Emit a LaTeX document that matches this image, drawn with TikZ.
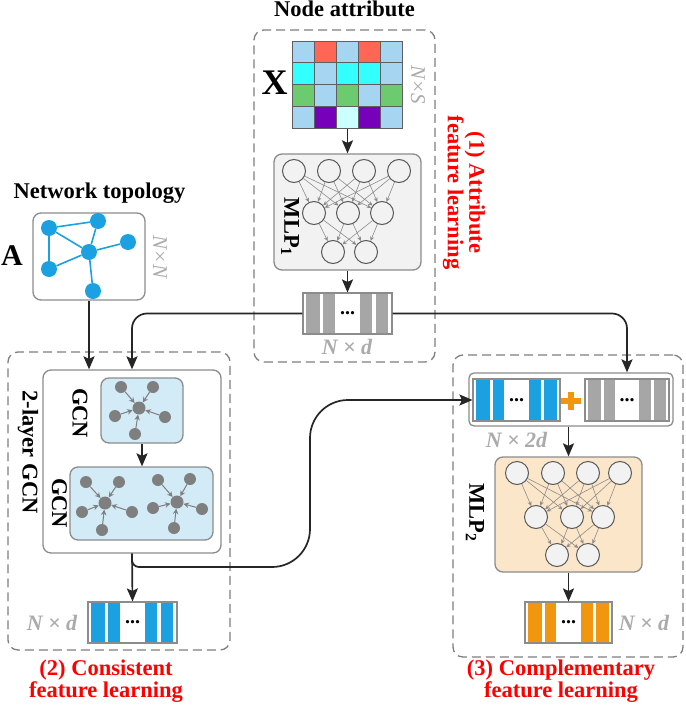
\documentclass[tikz,border=0pt]{standalone}
\usepackage{fontspec}
\setmainfont{Liberation Serif}
\usetikzlibrary{calc,arrows.meta}
\definecolor{nblue}{HTML}{1BA1E2}
\definecolor{sgray}{HTML}{A6A6A6}
\definecolor{norange}{HTML}{F0960F}
\definecolor{gcnfill}{HTML}{D3EBF7}
\definecolor{mlpAfill}{HTML}{F2F2F2}
\definecolor{mlpBfill}{HTML}{FCE6C9}
\definecolor{bgray}{HTML}{8C8C8C}
\definecolor{dgray}{HTML}{7F7F7F}
\definecolor{arr}{HTML}{262626}
\definecolor{lbl}{HTML}{ABABAB}
\definecolor{gnd}{HTML}{7F7F7F}
\definecolor{mline}{HTML}{595959}
\definecolor{medg}{HTML}{8C8C8C}
\definecolor{mgrid}{HTML}{5F5F5F}
\definecolor{mlb}{HTML}{A5D5F0}
\definecolor{mred}{HTML}{FF6655}
\definecolor{mcyan}{HTML}{33FFFF}
\definecolor{mgreen}{HTML}{6CCB6E}
\definecolor{mpurple}{HTML}{7700BB}
\definecolor{mpale}{HTML}{CCFFFF}
\definecolor{nred}{HTML}{FF0000}
\newcommand\lblfont{\fontsize{22.5}{22.5}\selectfont\bfseries}
\newcommand\redfont{\fontsize{22.5}{20.5}\selectfont\bfseries}
\newcommand\glabfont{\fontsize{22}{22}\selectfont\bfseries\itshape}
\newcommand\dimfont{\fontsize{21}{21}\selectfont\itshape}
\newcommand\dotsfont{\fontsize{20}{20}\selectfont\bfseries}
\tikzset{
 dashbox/.style={draw=dgray, dash pattern=on 9pt off 5pt, line width=1.3pt, rounded corners=10pt, inner sep=0pt},
 solidbox/.style={draw=bgray, line width=1.3pt, rounded corners=8pt, inner sep=0pt},
 conn/.style={draw=arr, line width=1.7pt, -{Stealth[length=13pt,width=11pt,inset=2.5pt]}},
 bnode/.style={circle, fill=nblue, minimum size=16pt, inner sep=0pt},
 bedge/.style={draw=nblue, line width=1.6pt},
 gnode/.style={circle, fill=gnd, minimum size=12pt, inner sep=0pt},
 gedge/.style={draw=gnd, line width=1pt, -{Stealth[length=5.5pt,width=5.5pt]}},
 mnode/.style={circle, draw=mline, fill=#1, line width=1pt, minimum size=23pt, inner sep=0pt},
 medge/.style={draw=medg, line width=0.6pt, -{Stealth[length=4.5pt,width=4pt]}},
 vec/.style 2 args={draw=bgray, fill=white, line width=1.1pt, inner sep=0pt, minimum width=#2, minimum height=41pt,
   font=\dotsfont,
   path picture={\foreach \a/\b in {0.035/0.19,0.225/0.36,0.64/0.78,0.82/0.96}{
     \fill[#1] ($(path picture bounding box.south west)!\a!(path picture bounding box.south east)$) rectangle ($(path picture bounding box.north west)!\b!(path picture bounding box.north east)$);}}},
 blab/.style={font=\lblfont, text=black, inner sep=0pt},
 rlab/.style={font=\redfont, text=nred, align=center, inner sep=0pt},
 glab/.style={font=\glabfont, text=lbl, inner sep=0pt},
 dlab/.style={font=\dimfont, text=lbl, inner sep=0pt, rotate=-90},
}
\begin{document}
\begin{tikzpicture}[x=1pt,y=-1pt]
\fill[white] (0,0) rectangle (685,706);
\useasboundingbox (0,0) rectangle (685,706);

% dashed containers
\node[dashbox, minimum width=181pt, minimum height=332pt] (attrbox) at (344.5,196) {};
\node[dashbox, minimum width=222pt, minimum height=298pt] (consbox) at (119,501) {};
\node[dashbox, minimum width=230pt, minimum height=302pt] (compbox) at (568,506) {};

% titles
\node[blab, anchor=base] (title1) at (344.5,17) {Node attribute};
\node[blab, anchor=base] (title2) at (99.5,198) {Network topology};

% attribute matrix
\foreach \row/\cols in {0/{mlb,mred,mlb,mred,mlb},1/{mcyan,mlb,mcyan,mcyan,mlb},2/{mgreen,mlb,mgreen,mlb,mgreen},3/{mlb,mpurple,mpale,mpurple,mlb}}{
  \foreach \c [count=\i from 0] in \cols {
    \filldraw[fill=\c, draw=mgrid, line width=0.8pt] (292+\i*22, 41+\row*21.75) rectangle ++(22,21.75);
  }
}
\node[draw=mgrid, line width=1pt, minimum width=110pt, minimum height=87pt, inner sep=0pt, anchor=north west] (Xm) at (292,41) {};
\node[blab, font=\fontsize{36}{36}\selectfont\bfseries, anchor=base] (Xl) at (274.5,95) {X};
\node[dlab] (xdim) at (418,85) {N×S};

% MLP1
\node[solidbox, fill=mlpAfill, minimum width=147pt, minimum height=116pt] (mlp1) at (347.5,212) {};
\foreach \x [count=\i] in {294,329,364,399} \node[mnode=mlpAfill] (at\i) at (\x,171) {};
\foreach \x [count=\i] in {314,348,382} \node[mnode=mlpAfill] (am\i) at (\x,213) {};
\foreach \x [count=\i] in {333,366} \node[mnode=mlpAfill] (ab\i) at (\x,252) {};
\foreach \i in {1,...,4}{\foreach \j in {1,2,3}{\draw[medge] (at\i) -- (am\j);}}
\foreach \i in {1,2,3}{\foreach \j in {1,2}{\draw[medge] (am\i) -- (ab\j);}}
\node[blab, rotate=-90] (mlp1l) at (290,227) {MLP\textsubscript{1}};

\node[rlab, rotate=-90] (lab1) at (464,192.5) {(1) Attribute\\feature learning};

% top vector
\node[vec={sgray}{89pt}] (vtop) at (347.5,313.5) {...};
\node[glab] (vtopl) at (347,347) {N × d};
\draw[conn] (Xm.south) -- (mlp1.north);
\draw[conn] (mlp1.south) -- (vtop.north);

% network topology
\node[solidbox, minimum width=112pt, minimum height=87pt] (Abox) at (89,256.5) {};
\node[bnode] (a1) at (49,228) {};
\node[bnode] (a2) at (98,221) {};
\node[bnode] (a3) at (128,242) {};
\node[bnode] (a4) at (89,252) {};
\node[bnode] (a5) at (49,269) {};
\node[bnode] (a6) at (93,291) {};
\foreach \u/\v in {a1/a2,a1/a4,a1/a5,a2/a4,a4/a3,a4/a5,a4/a6} \draw[bedge] (\u) -- (\v);
\node[blab, font=\fontsize{30}{30}\selectfont\bfseries, anchor=base] (Al) at (12,265) {A};
\node[dlab] (adim) at (160,257) {N×N};

% GCN
\node[solidbox, fill=white, minimum width=178pt, minimum height=183pt] (gcnout) at (132,461.5) {};
\node[solidbox, fill=gcnfill, minimum width=82pt, minimum height=65pt] (gcn1) at (142,410.5) {};
\node[solidbox, fill=gcnfill, minimum width=143pt, minimum height=73pt] (gcn2) at (141.5,503.5) {};
\node[blab, rotate=-90] (gcnl) at (28,452) {2-layer GCN};
\node[blab, rotate=-90] (gcn1l) at (80,413) {GCN};
\node[blab, rotate=-90] (gcn2l) at (59.5,503) {GCN};
% stars
\node[gnode, minimum size=13pt] (s1c) at (139,408) {};
\foreach \p [count=\i] in {(121,387),(153,387),(115,416),(165,417),(135,434)}{\node[gnode] (s1o\i) at \p {}; \draw[gedge] (s1o\i) -- (s1c);}
\node[gnode, minimum size=13pt] (s2c) at (105,503) {};
\foreach \p [count=\i] in {(86,482),(119,482),(82,512),(132,512),(102,530)}{\node[gnode] (s2o\i) at \p {}; \draw[gedge] (s2o\i) -- (s2c);}
\node[gnode, minimum size=13pt] (s3c) at (177,502) {};
\foreach \p [count=\i] in {(158,480),(190,479),(153,508),(202,509),(174,528)}{\node[gnode] (s3o\i) at \p {}; \draw[gedge] (s3o\i) -- (s3c);}
\draw[conn] (gcn1.south) -- (gcn1.south |- gcn2.north);

% consistent vector
\node[vec={nblue}{89pt}] (vblue) at (132.5,622.5) {...};
\node[glab] (vbluel) at (52,623) {N × d};
\node[rlab] (lab2) at (106,681) {(2) Consistent\\feature learning};

% concatenation
\node[solidbox, fill=white, rounded corners=5pt, minimum width=204pt, minimum height=53pt] (cat) at (571,399.5) {};
\node[vec={nblue}{87pt}, minimum height=42pt] (vcb) at (516.5,400) {...};
\node[vec={sgray}{84pt}, minimum height=42pt] (vcg) at (627,400) {...};
\coordinate (plusc) at (571,401);
\draw[norange, line width=6pt] ($(plusc)+(-10,0)$) -- ($(plusc)+(10,0)$);
\draw[norange, line width=6pt] ($(plusc)+(0,-9)$) -- ($(plusc)+(0,9)$);
\node[glab] (catl) at (516.5,440) {N × 2d};

% MLP2
\node[solidbox, fill=mlpBfill, minimum width=147pt, minimum height=115pt] (mlp2) at (568.5,514.5) {};
\foreach \x [count=\i] in {517,553,588,620} \node[mnode=mlpAfill] (bt\i) at (\x,473) {};
\foreach \x [count=\i] in {536,572,603} \node[mnode=mlpAfill] (bm\i) at (\x,517) {};
\foreach \x [count=\i] in {557,588} \node[mnode=mlpAfill] (bb\i) at (\x,555) {};
\foreach \i in {1,...,4}{\foreach \j in {1,2,3}{\draw[medge] (bt\i) -- (bm\j);}}
\foreach \i in {1,2,3}{\foreach \j in {1,2}{\draw[medge] (bm\i) -- (bb\j);}}
\node[blab, rotate=-90] (mlp2l) at (475,512.5) {MLP\textsubscript{2}};

\node[vec={norange}{87pt}] (vor) at (568.5,622.5) {...};
\node[glab] (vorl) at (644,623) {N × d};
\node[rlab] (lab3) at (561,681) {(3) Complementary\\feature learning};

% connectors
\draw[conn] (Abox.south) -- (Abox.south |- gcnout.north);
\draw[conn, rounded corners=15pt] (vtop.west) -| (gcnout.north);
\draw[conn, rounded corners=15pt] (vtop.east) -| (vcg.north |- cat.north);
\draw[conn] (gcnout.south) -- (vblue.north);
\draw[conn] (gcnout.south) [rounded corners=7pt] -- (132,567) [rounded corners=38pt] -- (310,567) -- (310,400) -- (vcb.west);
\draw[conn] (mlp2.north |- cat.south) -- (mlp2.north);
\draw[conn] (mlp2.south) -- (vor.north);
\end{tikzpicture}
\end{document}
